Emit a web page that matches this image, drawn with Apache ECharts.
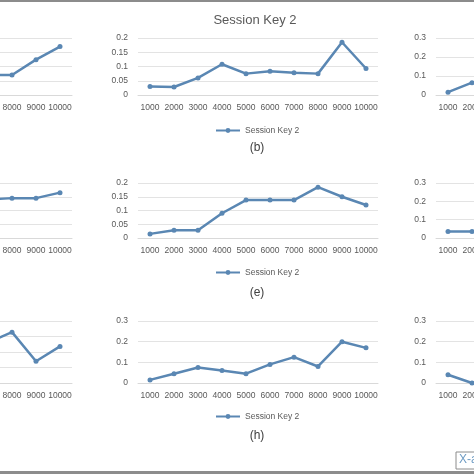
<!DOCTYPE html>
<html>
<head>
<meta charset="utf-8">
<script src="https://cdn.jsdelivr.net/npm/echarts@6/dist/echarts.min.js"></script>
<style>html,body{margin:0;height:100%;background:#fff;overflow:hidden}#c{width:1000px;height:474px;margin-left:-300px}</style>
</head>
<body>
<div id="c"></div>
<script>
var keys = ['1000','2000','3000','4000','5000','6000','7000','8000','9000','10000'];
// left column (only the right end is visible)
var seriesA = [0.02, 0.03, 0.04, 0.05, 0.06, 0.07, 0.07, 0.07, 0.124, 0.17];
var seriesD = [0.02, 0.04, 0.06, 0.09, 0.12, 0.13, 0.14, 0.145, 0.145, 0.165];
var seriesG = [0.02, 0.05, 0.08, 0.1, 0.11, 0.12, 0.13, 0.164, 0.07, 0.118];
// middle column
var seriesB = [0.03, 0.028, 0.06, 0.108, 0.075, 0.083, 0.078, 0.075, 0.185, 0.093];
var seriesE = [0.015, 0.028, 0.028, 0.09, 0.138, 0.138, 0.138, 0.185, 0.15, 0.12];
var seriesH = [0.015, 0.045, 0.075, 0.06, 0.045, 0.09, 0.125, 0.08, 0.2, 0.17];
// right column (only the left start is visible)
var seriesC = [0.015, 0.065, 0.07, 0.09, 0.1, 0.1, 0.1, 0.1, 0.1, 0.1];
var seriesF = [0.035, 0.035, 0.06, 0.08, 0.1, 0.1, 0.1, 0.1, 0.1, 0.1];
var seriesI = [0.04, 0, 0.02, 0.05, 0.06, 0.06, 0.06, 0.06, 0.06, 0.06];
var captions = ['(b)', '(e)', '(h)'];

var shift = 300; // canvas starts 300px left of the visible window
var colLeft = [-168, 138, 436];
var rows = [{top: 38, h: 57}, {top: 183, h: 55}, {top: 321, h: 62}];
var cells = [
  [seriesA, 0, 0, 0.2, 0.05], [seriesB, 1, 0, 0.2, 0.05], [seriesC, 2, 0, 0.3, 0.1],
  [seriesD, 0, 1, 0.2, 0.05], [seriesE, 1, 1, 0.2, 0.05], [seriesF, 2, 1, 0.3, 0.1],
  [seriesG, 0, 2, 0.2, 0.05], [seriesH, 1, 2, 0.3, 0.1], [seriesI, 2, 2, 0.3, 0.1]
];
var txt = '#595959', blue = '#5a87b3';
var grid = [], xAxis = [], yAxis = [], series = [];
cells.forEach(function (c, i) {
  grid.push({left: colLeft[c[1]] + shift, width: 240, top: rows[c[2]].top, height: rows[c[2]].h});
  xAxis.push({type: 'category', gridIndex: i, data: keys,
    axisLine: {lineStyle: {color: '#d9d9d9'}}, axisTick: {show: false},
    axisLabel: {color: txt, fontSize: 8.5, margin: 8, interval: 0, fontFamily: 'Liberation Sans'}});
  yAxis.push({type: 'value', gridIndex: i, min: 0, max: c[3], interval: c[4],
    axisLabel: {color: txt, fontSize: 8.5, margin: 10, fontFamily: 'Liberation Sans'},
    splitLine: {lineStyle: {color: '#e3e3e3'}}});
  series.push({type: 'line', name: 'Session Key 2', xAxisIndex: i, yAxisIndex: i, data: c[0],
    symbol: 'circle', symbolSize: 5, itemStyle: {color: blue},
    lineStyle: {color: blue, width: 2.5}});
});

var title = [{text: 'Session Key 2', left: 250 + shift, top: 9, textAlign: 'center',
  textStyle: {color: txt, fontSize: 13, fontWeight: 'normal', fontFamily: 'Liberation Sans'}}];
var legendTops = [121, 263, 407];
var captionTops = [137, 282, 425];
captions.forEach(function (t, r) {
  title.push({text: t, left: 252 + shift, top: captionTops[r], textAlign: 'center',
    textStyle: {color: '#404040', fontSize: 12, fontWeight: 'normal', fontFamily: 'Liberation Sans'}});
});
var legend = legendTops.map(function (t) {
  return {data: ['Session Key 2'], left: 210 + shift, top: t, itemWidth: 24, itemHeight: 6,
    textStyle: {color: txt, fontSize: 8.5, fontFamily: 'Liberation Sans'}, selectedMode: false};
});

var chart = echarts.init(document.getElementById('c'));
chart.setOption({
  animation: false,
  title: title, legend: legend, grid: grid, xAxis: xAxis, yAxis: yAxis, series: series,
  graphic: [
    {type: 'rect', shape: {x: shift, y: 0, width: 474, height: 2}, style: {fill: '#8c8c8c'}},
    {type: 'rect', shape: {x: shift, y: 471, width: 474, height: 3}, style: {fill: '#8c8c8c'}},
    {type: 'rect', shape: {x: shift + 456, y: 452, width: 24, height: 17}, style: {fill: '#fff', stroke: '#8c8c8c', lineWidth: 1}},
    {type: 'text', x: shift + 459, y: 454, style: {text: 'X-a', fill: '#6f9cc4', fontSize: 12, fontFamily: 'Liberation Sans'}}
  ]
});
</script>
</body>
</html>
